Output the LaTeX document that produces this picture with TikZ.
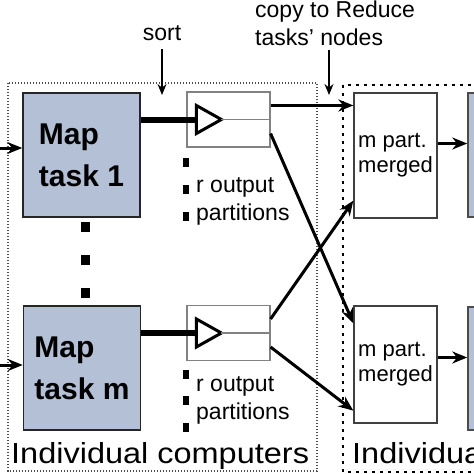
\documentclass[tikz,border=0pt]{standalone}
\usepackage{fontspec}
\setmainfont{Liberation Sans}
\newfontfamily\widesans[FakeStretch=1.12]{Liberation Sans}
\usetikzlibrary{arrows.meta,calc}
\definecolor{mapblue}{RGB}{180,192,213}
\definecolor{partgray}{RGB}{130,130,130}
\tikzset{
  maptask/.style={draw=black!85, line width=1.5pt, fill=mapblue,
    minimum width=117pt, minimum height=124pt, align=left,
    font=\fontsize{30}{42}\selectfont\bfseries},
  partbox/.style={draw=partgray, line width=1.2pt, rectangle,
    minimum width=83pt, minimum height=55pt},
  mergebox/.style={draw=black!75, line width=1.3pt, rectangle,
    minimum width=83pt, align=left, inner sep=0pt,
    font=\fontsize{22}{25}\selectfont},
  reducebox/.style={draw=black!70, line width=1.5pt, fill=mapblue,
    minimum width=83pt, minimum height=124pt},
  lbl/.style={inner sep=0pt, align=left, font=\fontsize{23}{28}\selectfont},
  biglbl/.style={inner sep=0pt, font=\widesans\fontsize{29}{33}\selectfont},
  finedots/.style={black!70, line width=1.4pt, dash pattern=on 1.4pt off 1.6pt},
  bigdots/.style={black, line width=2.8pt, dash pattern=on 2.8pt off 5.2pt},
  arr/.style={->, line width=3pt},
  thinarr/.style={-{Stealth[length=11pt,width=9pt]}, line width=1.5pt},
  thickline/.style={line width=6pt},
  tri/.style={line width=3pt, fill=white, line join=miter}
}

\begin{document}
\begin{tikzpicture}[x=1pt, y=-1pt, >={Stealth[length=15pt,width=12pt]}]
    \clip (0,0) rectangle (474,474);
    % computer frames
    \draw[finedots] (8,83) rectangle (317,471);
    \draw[bigdots] (343,85) rectangle (500,472);
    \node[biglbl, anchor=base west] (indiv1) at (11,463) {Individual computers};
    \node[biglbl, anchor=base west] (indiv2) at (352,463) {Individual computers};
    % map side
    \node[maptask] (map1) at (81.5,155) {Map\\task 1};
    \node[maptask] (mapm) at (82,368) {Map\\task m};
    \node[partbox] (part1) at (228.5,119.5) {};
    \node[partbox] (part2) at (228.5,333) {};
    \node[lbl, anchor=base west] (parts1) at (196,220) {r output\\partitions};
    \node[lbl, anchor=base west] (parts2) at (196,419) {r output\\partitions};
    % reduce side
    \node[mergebox, minimum height=125pt] (merge1) at (395.5,155.5) {m part.\\merged};
    \node[mergebox, minimum height=117pt] (merge2) at (395.5,364.5) {m part.\\merged};
    \node[reducebox] (red1) at (509.5,155) {};
    \node[reducebox, minimum height=123pt] (red2) at (509.5,368.5) {};
    % top labels
    \node[lbl, anchor=base] (sortlbl) at (162,40) {sort};
    \node[lbl, anchor=base west] (copylbl) at (255,45) {copy to Reduce\\tasks' nodes};
    \coordinate (sorttip) at (162,95);
    \coordinate (copytip) at (329,95);
    \draw[thinarr, shorten <=9pt] (sortlbl.south -| sorttip) -- (sorttip);
    \draw[thinarr, shorten <=5pt] (copylbl.south -| copytip) -- (copytip);
    % inputs
    \coordinate (in1) at (0,148);
    \coordinate (inm) at (0,365);
    \draw[arr] (in1) -- (in1 -| map1.west);
    \draw[arr] (inm) -- (inm -| mapm.west);
    % sorted output into partitions
    \draw[thickline] (map1.east |- part1.west) -- ([xshift=10pt]part1.west);
    \draw[tri] ([xshift=10pt,yshift=14pt]part1.west) -- ([xshift=35pt]part1.west)
        -- ([xshift=10pt,yshift=-14pt]part1.west) -- cycle;
    \draw[partgray, line width=1.2pt] ([xshift=35pt]part1.west) -- (part1.east);
    \draw[thickline] (mapm.east |- part2.west) -- ([xshift=10pt]part2.west);
    \draw[tri] ([xshift=10pt,yshift=14pt]part2.west) -- ([xshift=35pt]part2.west)
        -- ([xshift=10pt,yshift=-14pt]part2.west) -- cycle;
    \draw[partgray, line width=1.2pt] ([xshift=35pt]part2.west) -- (part2.east);
    % dots
    \foreach \y in {227,260,293}
        \fill (80.5,\y-5) rectangle +(9,10);
    \foreach \y in {162,189,216,374,400,427}
        \fill (183,\y-4.5) rectangle +(6,9);
    % copy to reduce nodes
    \coordinate (p1a) at ($(part1.north east)!0.25!(part1.south east)$);
    \coordinate (p1b) at ($(part1.north east)!0.75!(part1.south east)$);
    \coordinate (p2a) at ($(part2.north east)!0.25!(part2.south east)$);
    \coordinate (p2b) at ($(part2.north east)!0.75!(part2.south east)$);
    \draw[arr] (p1a) -- (p1a -| merge1.west);
    \draw[arr] (p1b) -- ($(merge2.north west)+(0,18)$);
    \draw[arr] (p2a) -- ($(merge1.south west)+(0,-18)$);
    \draw[arr] (p2b) -- ($(merge2.south west)+(0,-13)$);
    % merged into reduce tasks
    \coordinate (m1out) at ([yshift=12pt]merge1.east);
    \coordinate (m2out) at ([yshift=7pt]merge2.east);
    \draw[arr] (m1out) -- (m1out -| red1.west);
    \draw[arr] (m2out) -- (m2out -| red2.west);
\end{tikzpicture}
\end{document}
